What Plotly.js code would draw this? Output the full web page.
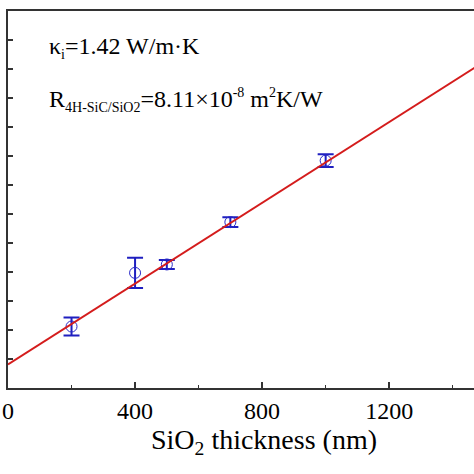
<!DOCTYPE html>
<html>
<head>
<meta charset="utf-8">
<script src="https://cdn.plot.ly/plotly-3.0.1.min.js"></script>
<style>html,body{margin:0;padding:0;background:#fff;}#chart{width:474px;height:474px;}</style>
</head>
<body>
<div id="chart"></div>
<script>
// SiO2 thickness (nm)
const thickness = [200, 400, 500, 700, 1000];
// Thermal resistance (units of 1e-7 m^2K/W)
const resistance = [2.12, 3.97, 4.26, 5.72, 7.84];
const resistanceErr = [0.31, 0.52, 0.155, 0.17, 0.22];
// Linear fit line endpoints
const fitX = [0, 1470];
const fitY = [0.81, 11.05];
const xTickVals = [0, 400, 800, 1200];
const xTickText = ['0', '400', '800', '1200'];

const serif = 'Liberation Serif, Times New Roman, serif';
const small = s => '<span style="font-size:14px">' + s + '</span>';

const traces = [
  {
    x: thickness, y: resistance, type: 'scatter', mode: 'markers',
    marker: {symbol: 'circle-open', size: 11, color: '#2a2ac8', line: {width: 1, color: '#2a2ac8'}},
    error_y: {type: 'data', array: resistanceErr, visible: true, color: '#1f1fc0', thickness: 2, width: 8},
    showlegend: false, cliponaxis: false
  },
  {
    x: fitX, y: fitY, type: 'scatter', mode: 'lines',
    line: {color: '#d41c1c', width: 2}, showlegend: false
  }
];

const layout = {
  width: 474, height: 474,
  margin: {l: 8, r: 0, t: 11, b: 86},
  paper_bgcolor: '#fff', plot_bgcolor: '#fff',
  showlegend: false,
  font: {family: serif, color: '#000'},
  xaxis: {
    range: [0, 1467], showgrid: false, zeroline: false,
    showline: true, linecolor: '#333', linewidth: 2, mirror: true,
    ticks: 'inside', ticklen: 6, tickwidth: 1.5, tickcolor: '#333',
    tickvals: xTickVals, ticktext: xTickText,
    tickfont: {family: serif, size: 24, color: '#000'},
    minor: {dtick: 200, ticks: 'inside', ticklen: 3, tickwidth: 1.5, tickcolor: '#333'}
  },
  yaxis: {
    range: [0, 13], showgrid: false, zeroline: false,
    showline: true, linecolor: '#333', linewidth: 2,
    ticks: 'inside', ticklen: 5, tickwidth: 1.5, tickcolor: '#333',
    dtick: 1, showticklabels: false
  },
  annotations: [
    {
      xref: 'paper', yref: 'paper', x: 0.083, y: 0.904, xanchor: 'left', yanchor: 'middle',
      text: 'κ<sub>' + small('i') + '</sub>=1.42 W/m·K', showarrow: false,
      font: {family: serif, size: 24, color: '#000'}
    },
    {
      xref: 'paper', yref: 'paper', x: 0.083, y: 0.765, xanchor: 'left', yanchor: 'middle',
      text: 'R<sub>' + small('4H-SiC/SiO2') + '</sub>=8.11×10<sup>' + small('-8') + '</sup> m<sup>' + small('2') + '</sup>K/W',
      showarrow: false,
      font: {family: serif, size: 24, color: '#000'}
    },
    {
      xref: 'paper', yref: 'paper', x: 0.549, y: -0.143, xanchor: 'center', yanchor: 'middle',
      text: 'SiO<sub>2</sub> thickness (nm)', showarrow: false,
      font: {family: serif, size: 28, color: '#000'}
    }
  ]
};

Plotly.newPlot('chart', traces, layout, {displayModeBar: false, staticPlot: true});
</script>
</body>
</html>
